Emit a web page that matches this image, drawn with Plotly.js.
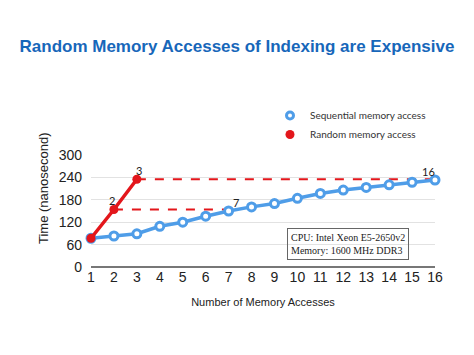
<!DOCTYPE html>
<html>
<head>
<meta charset="utf-8">
<script src="https://cdn.plot.ly/plotly-3.0.1.min.js"></script>
<style>html,body{margin:0;padding:0;background:#fff;}#chart{width:474px;height:355px;}</style>
</head>
<body>
<div id="chart"></div>
<script>
const accesses = [1,2,3,4,5,6,7,8,9,10,11,12,13,14,15,16];
const sequentialTime = [77,83,89,109,120,136,150,161,170,184,197,206,213,220,227,233];
const randomAccesses = [1,2,3];
const randomTime = [77,154,235];
const dashA_x = [2,7];
const dashA_y = [154,154];
const dashB_x = [3,16];
const dashB_y = [235,235];
const labelX = [2,3,7,16];
const labelY = [154,235,150,233];
const labelText = ['2','3','7','16'];
const yTicks = [0,60,120,180,240,300];

const blue = '#4f9de8';
const red = '#e3161b';
const W = 344, H = 112, L = 91, B = 267;
const px = v => (v - L) / W;
const py = v => (B - v) / H;

const traces = [
  {x: dashA_x, y: dashA_y, mode: 'lines', line: {color: red, width: 2, dash: 'dash'}, showlegend: false, hoverinfo: 'skip', cliponaxis: false},
  {x: dashB_x, y: dashB_y, mode: 'lines', line: {color: red, width: 2, dash: 'dash'}, showlegend: false, hoverinfo: 'skip', cliponaxis: false},
  {x: accesses, y: sequentialTime, mode: 'lines+markers', name: 'Sequential memory access',
   line: {color: blue, width: 3.5},
   marker: {symbol: 'circle', size: 8, color: '#ffffff', line: {color: blue, width: 3}},
   showlegend: false, cliponaxis: false},
  {x: randomAccesses, y: randomTime, mode: 'lines+markers', name: 'Random memory access',
   line: {color: red, width: 3.5},
   marker: {symbol: 'circle', size: 9, color: red},
   showlegend: false, cliponaxis: false},
  {x: [null], y: [null], mode: 'markers', name: 'Sequential memory access',
   marker: {symbol: 'circle', size: 7, color: '#ffffff', line: {color: blue, width: 3}}},
  {x: [null], y: [null], mode: 'markers', name: 'Random memory access',
   marker: {symbol: 'circle', size: 9, color: red}}
];

const shifts = [[-2,9],[2,9],[7,9],[-7,9]];
const annotations = labelText.map((t,i) => ({
  x: labelX[i], y: labelY[i], xref: 'x', yref: 'y', text: t, showarrow: false,
  xshift: shifts[i][0], yshift: shifts[i][1],
  font: {family: 'Lato, "Open Sans", sans-serif', size: 11, color: '#222'}
}));
annotations.push({
  xref: 'paper', yref: 'paper', x: px(287), y: py(228), xanchor: 'left', yanchor: 'top',
  text: 'CPU: Intel Xeon E5-2650v2<br>Memory: 1600 MHz DDR3', align: 'left', showarrow: false,
  font: {family: '"Liberation Serif", "DejaVu Serif", serif', size: 10, color: '#222'},
  bordercolor: '#666', borderwidth: 1, borderpad: 3, bgcolor: 'rgba(255,255,255,0)'
});
annotations.push({
  xref: 'paper', yref: 'paper', x: px(43), y: py(188), xanchor: 'center', yanchor: 'middle',
  text: 'Time (nanosecond)', textangle: -90, showarrow: false,
  font: {family: 'Arial, "Liberation Sans", sans-serif', size: 13, color: '#222'}
});

const layout = {
  width: 474, height: 355,
  margin: {l: 91, r: 39, t: 155, b: 88, pad: 0},
  paper_bgcolor: '#ffffff', plot_bgcolor: '#ffffff',
  title: {text: '<b>Random Memory Accesses of Indexing are Expensive</b>',
    font: {family: 'Arial, "Liberation Sans", sans-serif', size: 17, color: '#1767ba'},
    x: 0.5, xanchor: 'center', y: 1 - 46/355, yanchor: 'middle', yref: 'container'},
  xaxis: {range: [1,16], tickvals: accesses, ticktext: accesses.map(String),
    showgrid: false, zeroline: false, showline: false, ticks: '',
    tickfont: {family: 'Arial, "Liberation Sans", sans-serif', size: 14, color: '#222'},
    title: {text: 'Number of Memory Accesses', standoff: 14,
      font: {family: 'Arial, "Liberation Sans", sans-serif', size: 11, color: '#222'}}},
  yaxis: {range: [0,300], tickvals: yTicks, ticktext: yTicks.map(String),
    showgrid: true, gridcolor: '#e2e2e2', gridwidth: 1, zeroline: true, zerolinecolor: '#777', zerolinewidth: 1.5,
    showline: false, ticks: '', ticklabelstandoff: 8,
    tickfont: {family: 'Arial, "Liberation Sans", sans-serif', size: 14, color: '#222'}},
  legend: {x: px(270), y: py(101), xanchor: 'left', yanchor: 'top', xref: 'paper', yref: 'paper',
    bgcolor: 'rgba(0,0,0,0)', font: {family: 'Lato, "Open Sans", sans-serif', size: 10, color: '#333'},
    itemwidth: 30, tracegroupgap: 0},
  annotations: annotations,
  showlegend: true
};

Plotly.newPlot('chart', traces, layout, {displayModeBar: false, staticPlot: true});
</script>
</body>
</html>
